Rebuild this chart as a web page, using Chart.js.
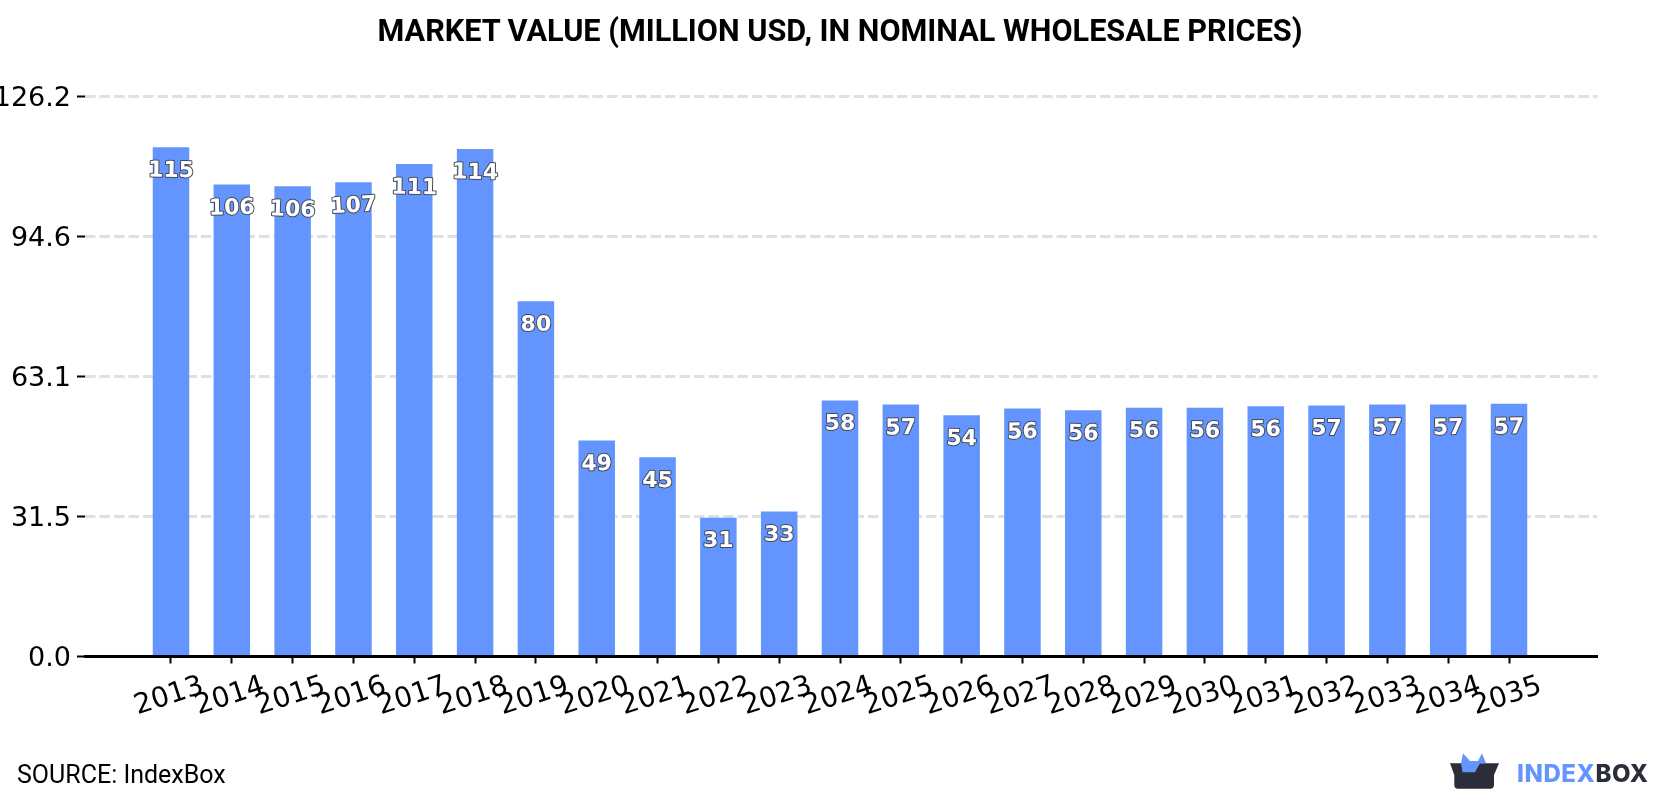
<!DOCTYPE html>
<html lang="en">
<head>
<meta charset="utf-8">
<title>Market value</title>
<style>
    html, body { margin: 0; padding: 0; background: #fff; overflow: hidden; }
    #wrap { position: relative; width: 1680px; height: 800px; }
    #chartTitle { position: absolute; left: 0; top: 13px; width: 1680px; text-align: center; font: 700 30.65px Roboto, sans-serif; line-height: 36px; color: #000; }
    #source { position: absolute; left: 17px; top: 761px; font: 25px Roboto, sans-serif; color: #000; line-height: 28px; }
    #logoIcon { position: absolute; left: 1450px; top: 750px; }
    #logoText { position: absolute; left: 1517px; top: 759px; font: 800 24px Inter, sans-serif; line-height: 30px; letter-spacing: 0.6px; color: #6495ff; white-space: nowrap; }
    #logoText span { color: #2b2d3a; }
</style>
<script src="https://cdn.jsdelivr.net/npm/chart.js@4"></script>
</head>
<body>
<div id="wrap">
    <canvas id="marketChart" width="1680" height="800"></canvas>
    <div id="chartTitle">MARKET VALUE (MILLION USD, IN NOMINAL WHOLESALE PRICES)</div>
    <div id="source">SOURCE: IndexBox</div>
    <svg id="logoIcon" width="50" height="40" viewBox="0 0 50 40">
        <path d="M0 13.3H49L44 25V35Q44 38.7 40 38.7H8Q4.3 38.7 4.3 35V25Z" fill="#2b2d3a"/>
        <path d="M11 13.3L13 3.3L20 11H28L32 3.3L36 13.3H30L25 22.3H12.5Z" fill="#6495ff"/>
    </svg>
    <div id="logoText">INDEX<span>BOX</span></div>
</div>
<script>
const years = [2013, 2014, 2015, 2016, 2017, 2018, 2019, 2020, 2021, 2022, 2023, 2024,
    2025, 2026, 2027, 2028, 2029, 2030, 2031, 2032, 2033, 2034, 2035];
const marketValues = [114.8, 106.4, 106.0, 106.9, 111.0, 114.4, 80.1, 48.7, 44.9, 31.3, 32.7, 57.7,
    56.8, 54.4, 55.9, 55.5, 56.1, 56.1, 56.4, 56.6, 56.8, 56.8, 57.0];
const yTicks = [0, 31.5, 63.1, 94.6, 126.2];

// value labels sit inside the top of each bar, white with a thin dark outline
const barValueLabels = {
    id: 'barValueLabels',
    afterDatasetsDraw(chart, args, opts) {
        const ctx = chart.ctx;
        chart.getDatasetMeta(0).data.forEach(function(bar, i) {
            ctx.save();
            ctx.translate(bar.x, bar.y + opts.offset);
            ctx.rotate((opts.tilt[i] || 0) * Math.PI / 180);
            ctx.font = opts.font;
            ctx.textAlign = 'center';
            ctx.textBaseline = 'middle';
            ctx.lineJoin = 'round';
            ctx.lineWidth = 2;
            ctx.strokeStyle = '#444956';
            ctx.strokeText(Math.round(marketValues[i]), 0, 0);
            ctx.fillStyle = '#fff';
            ctx.fillText(Math.round(marketValues[i]), 0, 0);
            ctx.restore();
        });
    }
};

document.addEventListener('DOMContentLoaded', function() {
    const ctx = document.getElementById('marketChart').getContext('2d');
    new Chart(ctx, {
        type: 'bar',
        data: {
            datasets: [{
                data: years.map((year, i) => ({ x: year, y: marketValues[i] })),
                backgroundColor: '#6495ff',
                barThickness: 36.5,
                inflateAmount: 0
            }]
        },
        plugins: [barValueLabels],
        options: {
            responsive: false,
            animation: false,
            layout: {
                autoPadding: false,
                padding: { left: 0, right: 82.5, top: 96.7, bottom: 0 }
            },
            scales: {
                x: {
                    type: 'linear',
                    offset: false,
                    min: 2011.586,
                    max: 2036.455,
                    afterBuildTicks: function(scale) {
                        scale.ticks = years.map(year => ({ value: year }));
                    },
                    afterFit: function(scale) {
                        scale.height = 143.5;
                    },
                    grid: {
                        offset: false,
                        drawOnChartArea: false,
                        tickLength: 7,
                        tickColor: '#000',
                        tickWidth: 2
                    },
                    border: { color: '#000', width: 3 },
                    ticks: {
                        autoSkip: false,
                        minRotation: 18,
                        maxRotation: 18,
                        labelOffset: 32,
                        padding: 6,
                        color: '#000',
                        font: { family: 'DejaVu Sans', size: 28 },
                        callback: value => String(value)
                    }
                },
                y: {
                    min: 0,
                    max: 126.2,
                    afterBuildTicks: function(scale) {
                        scale.ticks = yTicks.map(value => ({ value: value }));
                    },
                    afterFit: function(scale) {
                        scale.width = 85;
                    },
                    grid: {
                        color: '#e0e0e0',
                        lineWidth: 3,
                        tickLength: 8,
                        tickColor: '#000',
                        tickWidth: 2,
                        tickBorderDash: []
                    },
                    border: { display: false, dash: [10.5, 4] },
                    ticks: {
                        padding: 6,
                        labelOffset: 2.5,
                        color: '#000',
                        font: { family: 'DejaVu Sans', size: 27 },
                        callback: value => value.toFixed(1)
                    }
                }
            },
            plugins: {
                legend: { display: false },
                tooltip: { enabled: false },
                barValueLabels: {
                    offset: 24,
                    font: 'bold 22px "DejaVu Sans"',
                    tilt: [1, -1, 2, -3, 1, 1, 0, -1, 1, 0, 0, 0, -1, 1, -1, 1, 1, 1, -1, 0, -1, -1, -1]
                }
            }
        }
    });
});
</script>
</body>
</html>
